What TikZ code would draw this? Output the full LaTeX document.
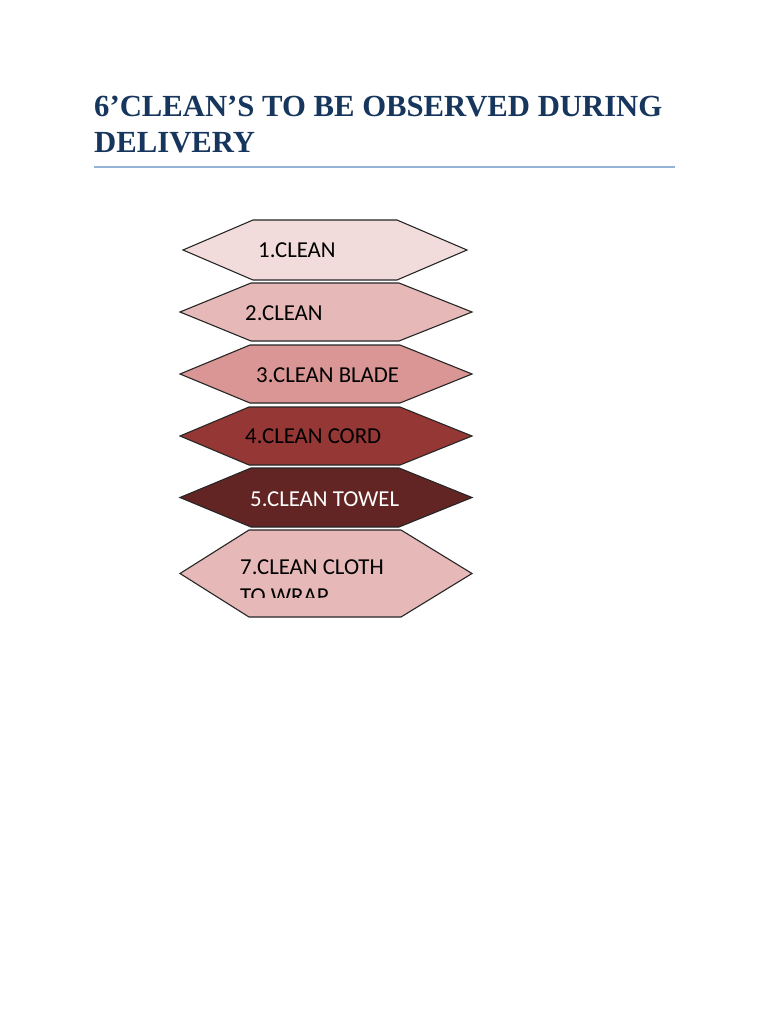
\documentclass[tikz,border=0pt]{standalone}
\usepackage{fontspec}
\setmainfont{Carlito}
\newfontfamily\titlefont{Liberation Serif}

\definecolor{titleblue}{HTML}{17365D}
\definecolor{rulecol}{HTML}{95B3D7}
\definecolor{pinkA}{HTML}{F2DCDB}
\definecolor{pinkB}{HTML}{E6B9B8}
\definecolor{pinkC}{HTML}{D99694}
\definecolor{redD}{HTML}{953735}
\definecolor{redE}{HTML}{632523}

\begin{document}
\begin{tikzpicture}[
    x=1pt, y=-1pt,
    hexa/.style={draw=black!85, line width=1.1pt, line join=miter},
    ttl/.style={font=\titlefont\bfseries\fontsize{30.7}{36}\selectfont, text=titleblue, inner sep=0pt, anchor=base west},
    lbl/.style={font=\fontsize{22.8}{27}\selectfont, inner sep=0pt, anchor=base west},
  ]
    \useasboundingbox[fill=white] (0,0) rectangle (768,1024);

    % title
    \node[ttl] (title1) at (94,117) {6’CLEAN’S TO BE OBSERVED DURING};
    \node[ttl] (title2) at (94,153) {DELIVERY};
    \draw[rulecol, line width=1.8pt] (94,167) -- (675,167);

    % hexagons: top/bottom/left tip/right tip/edge left/edge right/fill
    \foreach \yt/\yb/\lx/\rx/\el/\er/\fc in {
        220/280/183/467/253/397/pinkA,
        283/341/180/472/251/399/pinkB,
        345/403/180/472/250/400/pinkC,
        407/465/180/472/249/400/redD,
        468/527/180/472/251/399/redE,
        530/617/180/472/249/401/pinkB} {
      \draw[hexa, fill=\fc] (\el,\yt) -- (\er,\yt) -- (\rx,{(\yt+\yb)/2})
        -- (\er,\yb) -- (\el,\yb) -- (\lx,{(\yt+\yb)/2}) -- cycle;
    }

    % labels
    \foreach \n/\x/\y/\tc/\txt in {
        clean/258/258/black/1.CLEAN,
        cleanb/245/320/black/2.CLEAN,
        blade/256/382/black/3.CLEAN BLADE,
        cord/245/443/black/4.CLEAN CORD,
        towel/250/506/white/5.CLEAN TOWEL} {
      \node[lbl, text=\tc] (\n) at (\x,\y) {\txt};
    }

    % last label is cut off at the bottom
    \begin{scope}
      \clip (0,530) rectangle (768,597);
      \node[lbl] (cloth) at (240,574) {7.CLEAN CLOTH};
      \node[lbl] (wrap) at (240,603) {TO WRAP};
    \end{scope}
  \end{tikzpicture}
\end{document}
